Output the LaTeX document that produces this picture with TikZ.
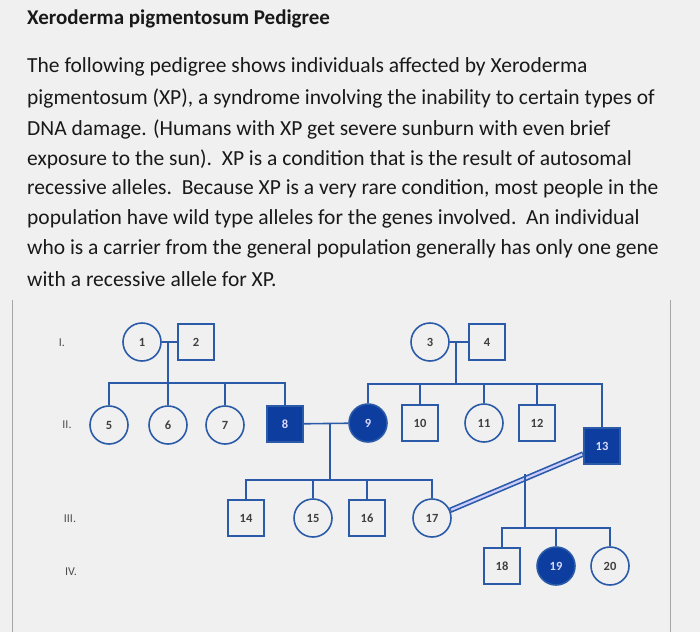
\documentclass[tikz,border=0pt]{standalone}
\usepackage{fontspec}
\setmainfont{Carlito}
\begin{document}
\begin{tikzpicture}[x=1pt,y=-1pt,
  ln/.style={draw=pblue,line width=1.6pt},
  fem/.style={circle,draw=pblue,line width=1.6pt,minimum size=38pt,inner sep=0pt,font=\fontsize{12.5}{13}\selectfont\bfseries,text=black!75},
  mal/.style={rectangle,draw=pblue,line width=1.6pt,minimum size=36pt,inner sep=0pt,font=\fontsize{12.5}{13}\selectfont\bfseries,text=black!75},
  aff/.style={fill=pfill,text=white!85!blue},
  txt/.style={anchor=west,inner sep=0pt,font=\fontsize{21.5}{22}\selectfont,text=black!90},
  gen/.style={font=\fontsize{12}{13}\selectfont,text=black!70}]
\definecolor{pblue}{HTML}{2A5AA8}
\definecolor{pfill}{HTML}{0D3D9E}
\fill[black!6] (0,0) rectangle (700,632);
\useasboundingbox (0,0) rectangle (700,632);
\draw[black!35,line width=0.8pt] (12,300) -- (12,632) (670,300) -- (670,632);
\node[txt,font=\fontsize{21}{22}\selectfont\bfseries] (title) at (27,19) {Xeroderma pigmentosum Pedigree};
\node[txt] (l1) at (27,67) {The following pedigree shows individuals affected by Xeroderma};
\node[txt] (l2) at (27,98) {pigmentosum (XP), a syndrome involving the inability to certain types of};
\node[txt] (l3) at (27,129) {DNA damage. (Humans with XP get severe sunburn with even brief};
\node[txt] (l4) at (27,159) {exposure to the sun).\ \ XP is a condition that is the result of autosomal};
\node[txt] (l5) at (27,189) {recessive alleles.\ \ Because XP is a very rare condition, most people in the};
\node[txt] (l6) at (27,219) {population have wild type alleles for the genes involved.\ \ An individual};
\node[txt] (l7) at (27,249) {who is a carrier from the general population generally has only one gene};
\node[txt] (l8) at (27,279) {with a recessive allele for XP.};
% generation labels
\node[gen] (gI) at (62,343) {I.};
\node[gen] (gII) at (67,425) {II.};
\node[gen] (gIII) at (70,519) {III.};
\node[gen] (gIV) at (71,572) {IV.};
% individuals
\node[fem] (p1) at (142,342) {1};
\node[mal] (p2) at (196,342) {2};
\node[fem] (p3) at (430,342) {3};
\node[mal] (p4) at (487,342) {4};
\node[fem] (p5) at (109,425) {5};
\node[fem] (p6) at (168,425) {6};
\node[fem] (p7) at (225,425) {7};
\node[mal,aff] (p8) at (285,424) {8};
\node[fem,aff] (p9) at (368,423) {9};
\node[mal] (p10) at (420,423) {10};
\node[fem] (p11) at (484,423) {11};
\node[mal] (p12) at (537,423) {12};
\node[mal,aff] (p13) at (602,446) {13};
\node[mal] (p14) at (246,518) {14};
\node[fem] (p15) at (313,518) {15};
\node[mal] (p16) at (367,518) {16};
\node[fem] (p17) at (432,518) {17};
\node[mal] (p18) at (502,566) {18};
\node[fem,aff] (p19) at (556,566) {19};
\node[fem] (p20) at (610,566) {20};
% family 1-2
\draw[ln] (p1) -- (p2);
\coordinate (m12) at (168,342);
\draw[ln] (m12) -- (168,383);
\draw[ln] (p5.north) |- (168,383) -| (p8.north);
\draw[ln] (p6.north) -- (168,383);
\draw[ln] (p7.north) -- (225,383);
% family 3-4
\draw[ln] (p3) -- (p4);
\coordinate (m34) at (456,342);
\draw[ln] (m34) -- (456,384);
\draw[ln] (p9.north) |- (456,384) -| (p13.north);
\draw[ln] (p10.north) -- (420,384);
\draw[ln] (p11.north) -- (484,384);
\draw[ln] (p12.north) -- (537,384);
% family 8-9
\draw[ln] (p8) -- (p9);
\coordinate (m89) at (330,424);
\draw[ln] (m89) -- (330,480);
\draw[ln] (p14.north) |- (330,480) -| (p17.north);
\draw[ln] (p15.north) -- (313,480);
\draw[ln] (p16.north) -- (367,480);
% consanguineous 13-17
\draw[pblue,line width=5.5pt] (p17) -- (p13);
\draw[white!80!blue,line width=2.2pt,shorten <=1pt,shorten >=1pt] (p17) -- (p13);
\coordinate (m1317) at (525,474);
\draw[ln] (m1317) -- (525,528);
\draw[ln] (p18.north) |- (525,528) -| (p20.north);
\draw[ln] (p19.north) -- (556,528);
\end{tikzpicture}
\end{document}
